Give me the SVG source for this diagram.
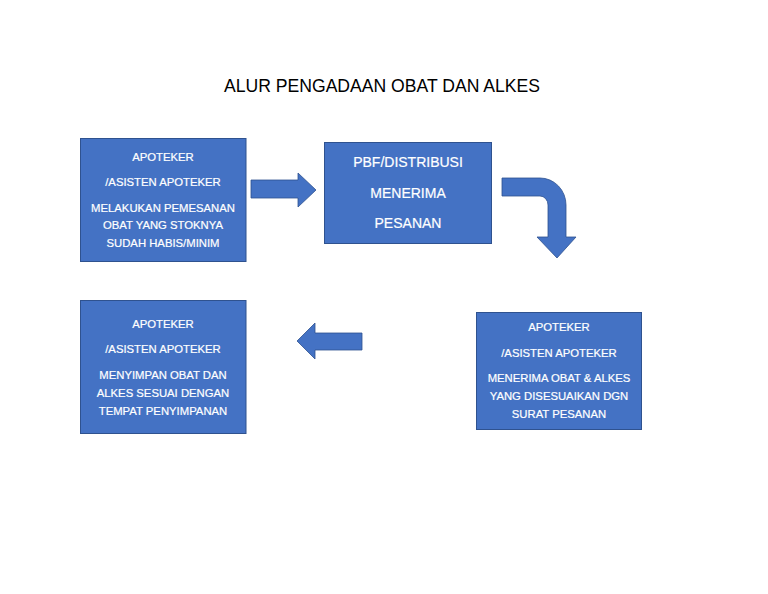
<svg xmlns="http://www.w3.org/2000/svg" width="768" height="594" viewBox="0 0 768 594">
<style>
.box{fill:#4472C4;stroke:#2F528F;stroke-width:1}
.arr{fill:#4472C4;stroke:#2F528F;stroke-width:0.8}
.t{font-family:"Liberation Sans",Arial,sans-serif;font-size:11.3px;fill:#FFFFFF;stroke:#FFFFFF;stroke-width:0.2;text-anchor:middle}
.t2{font-family:"Liberation Sans",Arial,sans-serif;font-size:14px;fill:#FFFFFF;stroke:#FFFFFF;stroke-width:0.2;text-anchor:middle}
.title{font-family:"Liberation Sans",Arial,sans-serif;font-size:19px;fill:#000000;text-anchor:middle}
</style>
<rect width="768" height="594" fill="#FFFFFF"/>
<text class="title" x="382" y="92" textLength="316" lengthAdjust="spacingAndGlyphs">ALUR PENGADAAN OBAT DAN ALKES</text>
<g id="node1">
<rect class="box" x="80.5" y="138.5" width="165.5" height="123"/>
<text class="t" x="163" y="161">APOTEKER</text>
<text class="t" x="163" y="186">/ASISTEN APOTEKER</text>
<text class="t" x="163" y="212">MELAKUKAN PEMESANAN</text>
<text class="t" x="163" y="229">OBAT YANG STOKNYA</text>
<text class="t" x="163" y="247">SUDAH HABIS/MINIM</text>
</g>
<g id="node2">
<rect class="box" x="324.5" y="142.5" width="167" height="101"/>
<text class="t2" x="408" y="167">PBF/DISTRIBUSI</text>
<text class="t2" x="408" y="198">MENERIMA</text>
<text class="t2" x="408" y="228">PESANAN</text>
</g>
<g id="node3">
<rect class="box" x="476.5" y="312.5" width="165" height="117"/>
<text class="t" x="559" y="331">APOTEKER</text>
<text class="t" x="559" y="357">/ASISTEN APOTEKER</text>
<text class="t" x="559" y="382">MENERIMA OBAT &amp; ALKES</text>
<text class="t" x="559" y="400">YANG DISESUAIKAN DGN</text>
<text class="t" x="559" y="418">SURAT PESANAN</text>
</g>
<g id="node4">
<rect class="box" x="80.5" y="300.5" width="165.5" height="133"/>
<text class="t" x="163" y="328">APOTEKER</text>
<text class="t" x="163" y="353">/ASISTEN APOTEKER</text>
<text class="t" x="163" y="379">MENYIMPAN OBAT DAN</text>
<text class="t" x="163" y="397">ALKES SESUAI DENGAN</text>
<text class="t" x="163" y="415">TEMPAT PENYIMPANAN</text>
</g>
<g id="connectors">
<path class="arr" d="M251,180 L298,180 L298,173 L316,190 L298,207 L298,198 L251,198 Z"/>
<path class="arr" d="M502,178 L540,178 A26,27 0 0 1 566,205 L566,237 L576,237 L557,258 L537,237 L548,237 L548,205 A8,9 0 0 0 540,196 L502,196 Z"/>
<path class="arr" d="M362,333 L315,333 L315,323 L297,341 L315,359 L315,350 L362,350 Z"/>
</g>
</svg>
